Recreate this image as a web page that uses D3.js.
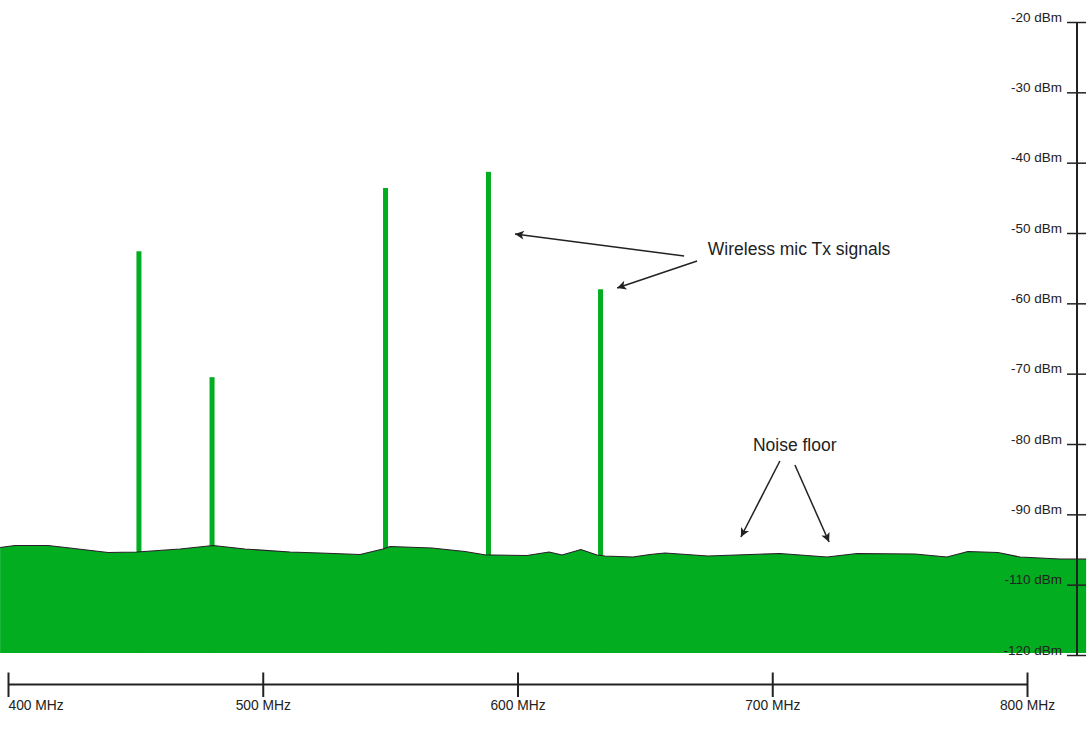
<!DOCTYPE html>
<html>
<head>
<meta charset="utf-8">
<script src="https://cdn.jsdelivr.net/npm/d3@7"></script>
<style>
  html, body { margin: 0; padding: 0; background: #fff; }
  svg { display: block; font-family: "Liberation Sans", Arial, Helvetica, sans-serif; }
</style>
</head>
<body>
<svg id="chart" width="1090" height="750"></svg>
<script>
// ---- Data ----
// Frequency axis ticks (MHz)
const xTicks = [400, 500, 600, 700, 800];
const xTickLabels = ["400 MHz", "500 MHz", "600 MHz", "700 MHz", "800 MHz"];
// Level axis ticks (dBm) and their printed labels (as shown in the source)
const yTicks = [-20, -30, -40, -50, -60, -70, -80, -90, -100, -110];
const yTickLabels = ["-20 dBm", "-30 dBm", "-40 dBm", "-50 dBm", "-60 dBm", "-70 dBm", "-80 dBm", "-90 dBm", "-110 dBm", "-120 dBm"];

// Wireless mic carriers
const signalFreq = [451.4, 480.1, 548.2, 588.6, 632.6];
const signalLevel = [-52.6, -70.5, -43.6, -41.3, -58.0];

// Noise floor trace
const noiseFreq = [396.9, 402.7, 415.7, 424.3, 439.3, 450.6, 467.5, 480.5, 493.0, 510.7, 522.5, 538.2, 547.2, 550.0,
  566.4, 579.4, 587.6, 590.4, 603.7, 612.4, 617.5, 624.9, 631.2, 634.3, 645.3, 652.0, 657.9, 674.8, 703.0,
  721.5, 733.3, 756.0, 768.6, 776.8, 788.6, 797.3, 813.0, 823.2];
const noiseLevel = [-94.72, -94.43, -94.43, -94.79, -95.43, -95.36, -94.93, -94.43, -94.93, -95.36, -95.50, -95.71, -94.93, -94.57,
  -94.79, -95.28, -95.78, -95.78, -95.85, -95.36, -95.78, -95.00, -95.78, -95.93, -96.07, -95.71, -95.50, -95.93, -95.57,
  -96.07, -95.57, -95.64, -96.07, -95.28, -95.43, -96.07, -96.35, -96.35];
const floorBase = -109.7;

// Annotations
const annoLabels = ["Wireless mic Tx signals", "Noise floor"];
const annoLabelFreq = [674.7, 692.4];
const annoLabelLevel = [-53.1, -81.0];
const arrowFrom = [[665.4, -53.27], [670.5, -53.98], [703.0, -82.42], [708.9, -82.99]];
const arrowTo = [[599.0, -50.14], [639.1, -57.82], [687.7, -93.22], [722.3, -93.93]];

// ---- Scales ----
const svg = d3.select("#chart");
const x = d3.scaleLinear().domain([400, 800]).range([8, 1027]);
const y = d3.scaleLinear().domain([-20, -110]).range([22, 655]);

const green = "#02ad1f";
const ink = "#222";

// ---- Noise floor area ----
const noise = noiseFreq.map((f, i) => ({ f, v: noiseLevel[i] }));
svg.append("path")
  .datum(noise)
  .attr("fill", green)
  .attr("d", d3.area().x(d => x(d.f)).y0(y(floorBase)).y1(d => y(d.v)));

// ---- Signals ----
svg.append("g").selectAll("rect")
  .data(signalFreq.map((f, i) => ({ f, v: signalLevel[i] })))
  .join("rect")
  .attr("x", d => x(d.f) - 2.5)
  .attr("width", 5)
  .attr("y", d => y(d.v))
  .attr("height", d => y(floorBase) - y(d.v))
  .attr("fill", green);

svg.append("path")
  .datum(noise)
  .attr("fill", "none")
  .attr("stroke", "#2b1e2b")
  .attr("stroke-width", 1.1)
  .attr("d", d3.line().x(d => x(d.f)).y(d => y(d.v)));

// ---- Y axis (right) ----
const yAxisG = svg.append("g").attr("transform", `translate(1077,0)`)
  .call(d3.axisLeft(y).tickValues(yTicks).tickFormat((d, i) => yTickLabels[i]).tickSize(0));
yAxisG.select(".domain").remove();
yAxisG.append("line").attr("x1", 0).attr("x2", 0).attr("y1", y(-20)).attr("y2", y(-110))
  .attr("stroke", ink).attr("stroke-width", 2);
yAxisG.selectAll(".tick line").attr("x1", -10).attr("x2", 9).attr("stroke", ink).attr("stroke-width", 1.5);
yAxisG.selectAll(".tick text")
  .attr("x", -15).attr("dy", null).attr("y", -1)
  .attr("text-anchor", "end")
  .attr("fill", ink)
  .style("font-size", "13.5px")
  .style("font-family", '"Liberation Sans", Arial, sans-serif');

// ---- X axis (bottom) ----
const xAxisG = svg.append("g").attr("transform", `translate(0,684.5)`)
  .call(d3.axisBottom(x).tickValues(xTicks).tickFormat((d, i) => xTickLabels[i]).tickSize(0));
xAxisG.select(".domain").remove();
xAxisG.append("line").attr("x1", x(400)).attr("x2", x(800)).attr("y1", 0).attr("y2", 0)
  .attr("stroke", ink).attr("stroke-width", 2);
xAxisG.selectAll(".tick line").attr("y1", -12).attr("y2", 12.5).attr("stroke", ink).attr("stroke-width", 2);
xAxisG.selectAll(".tick text")
  .attr("dy", null).attr("y", 25)
  .attr("text-anchor", (d, i) => i === 0 ? "start" : "middle")
  .attr("fill", ink)
  .style("font-size", "13.8px")
  .style("font-family", '"Liberation Sans", Arial, sans-serif');

// ---- Annotations ----
const defs = svg.append("defs");
defs.append("marker")
  .attr("id", "arrow")
  .attr("viewBox", "0 0 10 10")
  .attr("refX", 10).attr("refY", 5)
  .attr("markerWidth", 13).attr("markerHeight", 9)
  .attr("markerUnits", "userSpaceOnUse")
  .attr("orient", "auto")
  .append("path").attr("d", "M0,0 L10,5 L0,10 L2.5,5 Z").attr("fill", ink);

svg.append("g").selectAll("line")
  .data(arrowFrom.map((p, i) => ({ a: p, b: arrowTo[i] })))
  .join("line")
  .attr("x1", d => x(d.a[0])).attr("y1", d => y(d.a[1]))
  .attr("x2", d => x(d.b[0])).attr("y2", d => y(d.b[1]))
  .attr("stroke", ink).attr("stroke-width", 1.5)
  .attr("marker-end", "url(#arrow)");

svg.append("g").selectAll("text")
  .data(annoLabels)
  .join("text")
  .attr("x", (d, i) => x(annoLabelFreq[i]))
  .attr("y", (d, i) => y(annoLabelLevel[i]))
  .attr("fill", ink)
  .style("font-size", "17.5px")
  .text(d => d);
</script>
</body>
</html>
